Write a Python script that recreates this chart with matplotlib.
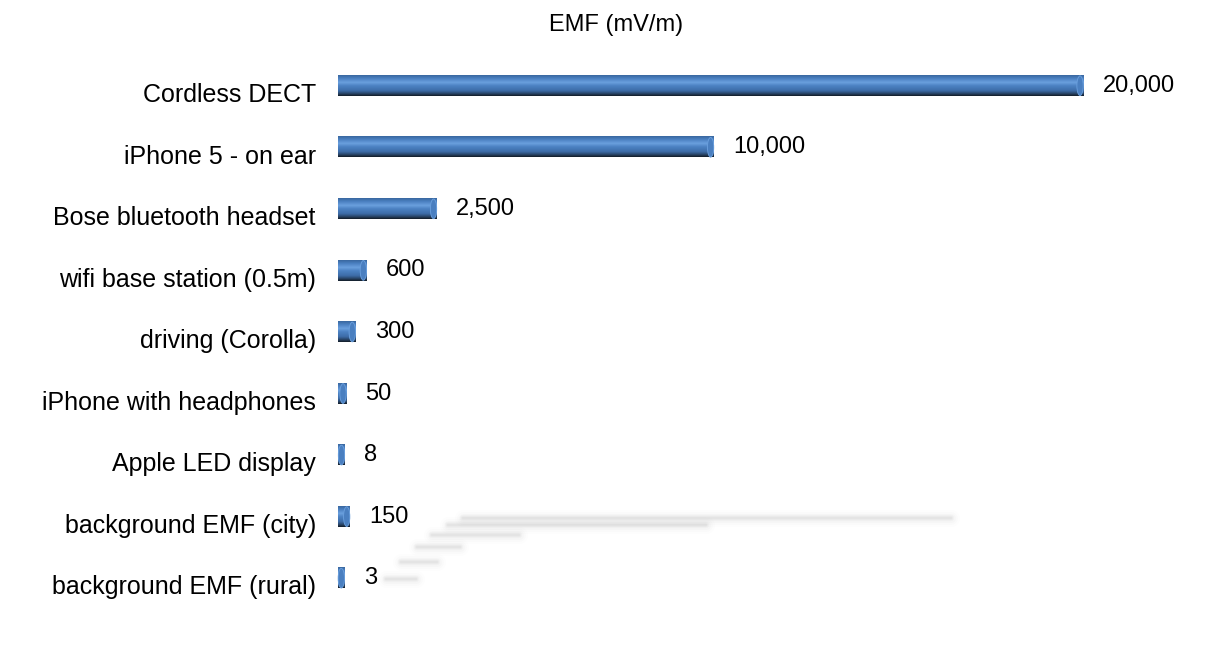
import numpy as np
import matplotlib
matplotlib.use('Agg')
import matplotlib.pyplot as plt
from matplotlib.patches import Polygon, Ellipse
from matplotlib.colors import LinearSegmentedColormap

plt.rcParams['font.family'] = ['Liberation Sans', 'DejaVu Sans']

# data (top to bottom)
categories = ['Cordless DECT', 'iPhone 5 - on ear', 'Bose bluetooth headset',
              'wifi base station (0.5m)', 'driving (Corolla)', 'iPhone with headphones',
              'Apple LED display', 'background EMF (city)', 'background EMF (rural)']
values = [20000, 10000, 2500, 600, 300, 50, 8, 150, 3]
value_labels = ['20,000', '10,000', '2,500', '600', '300', '50', '8', '150', '3']
title = 'EMF (mV/m)'

rx = 85        # half width of end caps, in data units
h = 0.33       # bar thickness in category units

fig = plt.figure(figsize=(12.19, 6.67), dpi=100)
ax = fig.add_axes([0.2773, 0.087, 0.6087, 0.8306])
ax.axis('off')

# cylinder shading, top -> bottom
cyl = LinearSegmentedColormap.from_list('cyl', [
    (0.0, '#3a68a0'), (0.15, '#4a7fc0'), (0.35, '#6ba0de'), (0.5, '#4d83c4'),
    (0.75, '#3d6ca8'), (0.88, '#2a486c'), (1.0, '#131d29')])
grad = np.linspace(0, 1, 64).reshape(-1, 1)
t = np.linspace(0, np.pi, 30)

for i, v in enumerate(values):
    yc = i
    # outline: straight sides with elliptic ends
    right = np.column_stack([v + rx * np.sin(t), yc - h / 2 * np.cos(t)])
    left = np.column_stack([0 - rx * np.sin(t), yc + h / 2 * np.cos(t)])
    shape = Polygon(np.vstack([right, left]), closed=True, facecolor='none',
                    edgecolor='none', clip_on=False)
    ax.add_patch(shape)
    im = ax.imshow(grad, cmap=cyl, aspect='auto',
                   extent=[-rx, v + rx, yc + h / 2, yc - h / 2],
                   interpolation='bilinear', zorder=2, clip_on=False)
    im.set_clip_path(shape)
    # end face of the cylinder
    ax.add_patch(Ellipse((v, yc), 2 * rx, h * 0.97, facecolor='#4a7fc0',
                         edgecolor='#6ba0de', lw=0.6, zorder=3, clip_on=False))
    ax.annotate(value_labels[i], (v + rx, yc), xytext=(14, 0), textcoords='offset points',
                ha='left', va='center', fontsize=17, color='black',
                annotation_clip=False)
    ax.text(-0.03, yc + 0.15, categories[i], transform=ax.get_yaxis_transform(),
            ha='right', va='center', fontsize=18, color='black')

# faint floor reflections of the bars
for k, v in enumerate(values[:6]):
    y = 7.02 + 0.1 * k + 0.02 * k * k
    x0 = 3300 - 420 * k
    x1 = x0 + 0.62 * v + 800
    for lw, a in [(12, 0.012), (9, 0.018), (6.5, 0.025), (4.5, 0.035), (3, 0.045), (1.6, 0.05)]:
        ax.plot([x0, x1], [y, y], color='#707070', lw=lw, alpha=a,
                solid_capstyle='round', zorder=1)

ax.set_xlim(-rx, 20000)
ax.set_ylim(8.5, -0.5)
fig.text(0.505, 0.962, title, ha='center', va='center', fontsize=17)

fig.savefig('out.png', dpi=100)
